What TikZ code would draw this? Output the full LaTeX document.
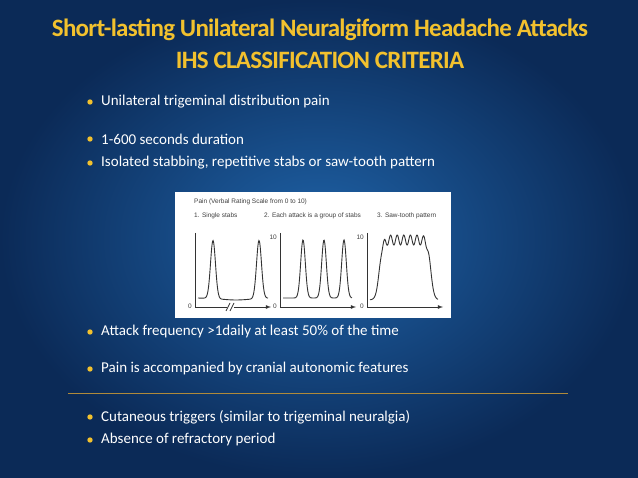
\documentclass[tikz,border=0pt]{standalone}
\usepackage{fontspec}
\setmainfont{Carlito}
\newfontfamily\lib{Liberation Sans}
\definecolor{ttl}{HTML}{F2C12E}
\definecolor{bg1}{HTML}{1F63A8}
\definecolor{bg2}{HTML}{0B2A57}
\definecolor{sep}{HTML}{B08A3A}
\tikzset{
 bul/.style={anchor=west,text=white,font=\fontsize{15}{17}\selectfont,inner sep=0},
 dot/.style={circle,fill=ttl,inner sep=1.9pt},
 ttlt/.style={text=ttl,font=\bfseries\fontsize{25}{27}\selectfont\addfontfeature{LetterSpace=-3},inner sep=0},
 sm/.style={font=\lib\fontsize{6.5}{7}\selectfont,text=black!75,anchor=west,inner sep=0},
 ax/.style={line width=0.8pt,black!80},
 cur/.style={line width=0.9pt,black!80},
 declare function={g(\x,\c,\w)=exp(max(-9,-((\x-\c)/\w)^2));
   sg(\x)=1/(1+exp(max(-9,min(9,-\x))));},
}
\begin{document}
\begin{tikzpicture}[x=1pt,y=-1pt]
\useasboundingbox (0,0) rectangle (638,478);
\shade[inner color=bg1,outer color=bg2] (0,0) rectangle (638,478);
\node[ttlt] (t1) at (320,30) {Short-lasting Unilateral Neuralgiform Headache Attacks};
\node[ttlt] (t2) at (320,60) {IHS CLASSIFICATION CRITERIA};
\foreach \y/\t [count=\i] in {102/Unilateral trigeminal distribution pain,139/1-600 seconds duration,163/{Isolated stabbing, repetitive stabs or saw-tooth pattern},332/Attack frequency >1daily at least 50\% of the time,369/Pain is accompanied by cranial autonomic features,417/Cutaneous triggers (similar to trigeminal neuralgia),440/Absence of refractory period}{
 \node[dot] (d\i) at (90,\y) {};
 \node[bul] (b\i) at (101,\y) {\t};
}
\draw[sep,line width=0.6pt] (68,393) -- (568,393);
% figure
\fill[white] (175,192) rectangle (451,318);
\node[sm] (p0) at (194,202) {Pain (Verbal Rating Scale from 0 to 10)};
\node[sm] (p1) at (194,216) {1. Single stabs};
\node[sm] (p2) at (264,216) {2. Each attack is a group of stabs};
\node[sm] (p3) at (377,216) {3. Saw-tooth pattern};
\foreach \x in {195,280,367}{
 \draw[ax,-latex] (\x,233) -- (\x,307) -- (\x+76,307);
 \node[sm,anchor=east] at (\x-3,306) {0};
}
\node[sm,anchor=east] at (277,237) {10};
\node[sm,anchor=east] at (364,237) {10};
\fill[white] (227,302) rectangle (234,311);
\draw[ax] (226,311) -- (230,303) (230,311) -- (234,303);
\draw[cur] plot[domain=198:268,samples=140,smooth] (\x,{298 - 58*g(\x,213,3.5) - 58*g(\x,259,3.5) + 2*g(\x,236,20)});
\draw[cur] plot[domain=283:352,samples=140,smooth] (\x,{298 - 58*g(\x,303,3.3) - 58*g(\x,324,3.3) - 58*g(\x,344,3.3)});
\draw[cur] plot[domain=370:438,samples=180,smooth] (\x,{300 - 55*sg((\x-379)/1.6)*sg((431-\x)/1.6) - 5*(1+cos(((\x-384)/6.6)*360))*sg((\x-383)/1.2)*sg((428-\x)/1.2)});
\end{tikzpicture}
\end{document}
